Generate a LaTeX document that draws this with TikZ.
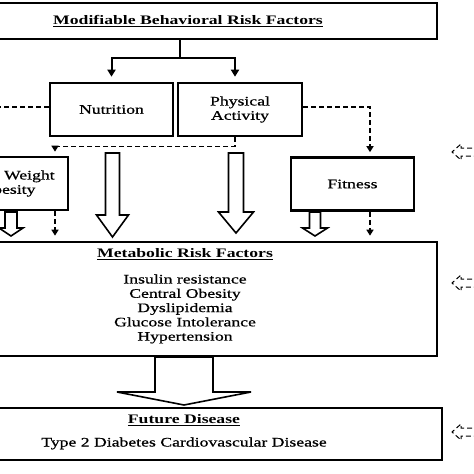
\documentclass[tikz,border=0pt]{standalone}
\usepackage{fontspec}
\setmainfont{Liberation Serif}[FakeStretch=1.36, UprightFeatures={FakeBold=0.7}]
\usetikzlibrary{arrows.meta,positioning}

% hollow block arrow pointing down: x, top, tip, half shaft, half head, head length
\newcommand{\hollowdown}[6]{%
  \draw[hollow] (#1-#4,#2) -- (#1-#4,#3-#6) -- (#1-#5,#3-#6) -- (#1,#3)
    -- (#1+#5,#3-#6) -- (#1+#4,#3-#6) -- (#1+#4,#2) -- cycle;}
% dashed hollow arrow pointing left, cut by the right edge
\newcommand{\hollowleft}[1]{%
  \draw[dashline, line width=1pt] (480,#1-4) -- (461,#1-4) -- (461,#1-8) -- (452,#1)
    -- (461,#1+8) -- (461,#1+4) -- (480,#1+4);}

\begin{document}
\begin{tikzpicture}[x=1pt, y=-1pt]

\tikzset{box/.style={draw, line width=2.6pt, inner sep=0pt, align=center, font=\fontsize{13}{14.3}\selectfont},
         heading/.style={font=\fontsize{13}{14.3}\selectfont\bfseries},
         plain/.style={font=\fontsize{13}{14.3}\selectfont, align=center},
         solidarrow/.style={line width=2pt, -{Triangle[length=7pt,width=8pt]}},
         dashline/.style={line width=1.4pt, dash pattern=on 5pt off 3pt},
         dasharrow/.style={dashline, -{Triangle[length=6pt,width=7pt]}},
         hollow/.style={line width=1.6pt, fill=white, line join=miter}}

\useasboundingbox (0,0) rectangle (474,474);
\clip (0,0) rectangle (474,474);

% boxes
\node[box, minimum width=498pt, minimum height=36pt] (behav) at (188,21)
  {\textbf{\underline{Modifiable Behavioral Risk Factors}}};
\node[box, minimum width=123pt, minimum height=53pt] (nutri) at (111.5,109.5) {Nutrition};
\node[box, minimum width=124pt, minimum height=53pt] (phys) at (240,109.5) {Physical\\Activity};
\node[box, minimum width=120pt, minimum height=53pt] (wt) at (8,183.5) {Body Weight\\Obesity};
\node[box, minimum width=123pt, minimum height=53pt] (fit) at (352.5,184) {Fitness};

\node[box, minimum width=504pt, minimum height=114pt] (metab) at (185,299) {};
\node[heading, below=4pt of metab.north] (metabtitle) {\underline{Metabolic Risk Factors}};
\node[plain, below=8pt of metabtitle] (metablist)
  {Insulin resistance\\Central Obesity\\Dyslipidemia\\Glucose Intolerance\\Hypertension};

\node[box, minimum width=516pt, minimum height=52pt] (future) at (184,434) {};
\node[heading, below=4pt of future.north] (futuretitle) {\underline{Future Disease}};
\node[plain, below=5pt of futuretitle] (futuretext) {Type 2 Diabetes Cardiovascular Disease};

% solid split
\coordinate (split) at (180,58);
\draw[line width=2pt] (behav.south -| split) -- (split);
\draw[solidarrow, shorten >=5pt] (split) -| (nutri.north);
\draw[solidarrow, shorten >=5pt] (split) -| ([xshift=-5pt]phys.north);

% dashed connectors
\coordinate (leftout) at (-10,107);
\draw[dashline] ([yshift=2.5pt]nutri.west) -- (leftout);
\draw[dasharrow, shorten >=4pt] ([yshift=2.5pt]phys.east) -| ([xshift=17.5pt]fit.north);
\draw[dasharrow, shorten >=4pt] ([xshift=-5pt]phys.south) -- ++(0,9) -| ([xshift=47pt]wt.north);
\draw[dasharrow, shorten >=5pt] ([xshift=47pt]wt.south) -- ([xshift=47pt]wt.south |- metab.north);
\draw[dasharrow, shorten >=5pt] ([xshift=17.5pt]fit.south) -- ([xshift=17.5pt]fit.south |- metab.north);

% hollow arrows
\hollowdown{11}{212}{236}{6}{12}{8}
\hollowdown{315}{212}{236}{5.5}{12.5}{8}
\hollowdown{112.5}{153}{237}{7}{16}{22}
\hollowdown{236}{153}{233}{7.5}{17.5}{21}
\hollowdown{184}{357}{405}{29}{67}{13}

% cut-off arrows at the right edge
\hollowleft{152}
\hollowleft{283}
\hollowleft{432}

\end{tikzpicture}
\end{document}
